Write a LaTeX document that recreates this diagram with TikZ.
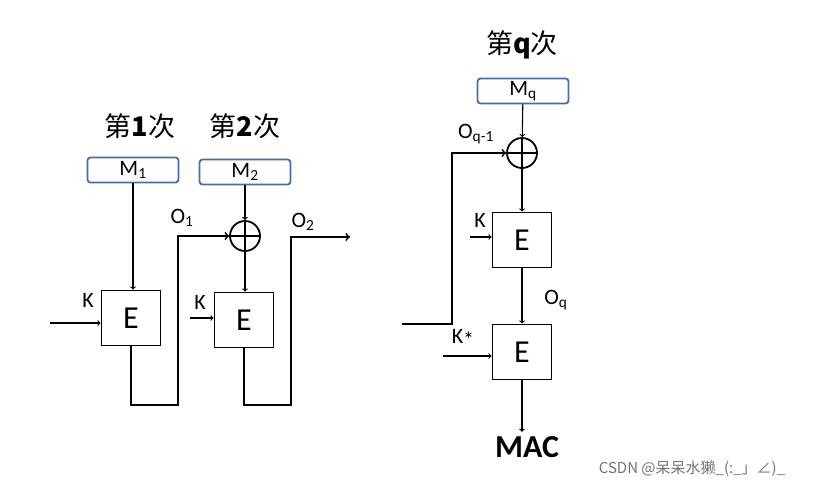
\documentclass[tikz,border=0pt]{standalone}
\usepackage{fontspec}
\setmainfont{Carlito}
\newfontfamily\cjk{Noto Sans CJK SC}
\usetikzlibrary{positioning}
\usetikzlibrary{calc}

\definecolor{msgblue}{RGB}{70,110,165}
\tikzset{
  enc/.style={draw, line width=1.8pt, minimum width=59pt, minimum height=55pt, inner sep=0pt, font=\fontsize{32}{32}\selectfont},
  msg/.style={draw=msgblue, line width=1.8pt, rounded corners=3pt, minimum width=91pt, minimum height=25pt, inner sep=0pt, font=\fontsize{22}{22}\selectfont},
  xorc/.style={draw, line width=1.8pt, circle, minimum size=30pt, inner sep=0pt, path picture={
      \draw[line width=1.8pt] (path picture bounding box.north) -- (path picture bounding box.south)
                   (path picture bounding box.west) -- (path picture bounding box.east);}},
  lbl/.style={font=\fontsize{22}{22}\selectfont, inner sep=0pt},
  ttl/.style={font=\cjk\fontsize{27}{27}\selectfont, inner sep=0pt},
  wire/.style={line width=1.8pt},
}

\begin{document}
\begin{tikzpicture}[x=1pt, y=-1pt, >=to, line width=1.1pt]
  \useasboundingbox (0,0) rectangle (830,493);

  % 第1次
  \node[ttl] (t1) at (140,126) {第\textbf{1}次};
  \node[msg] (m1) at (133,170) {M\textsubscript{1}};
  \node[enc] (e1) at (131,318) {E};
  \coordinate (in1) at (50,323);
  \node[lbl] (k1) at (88,300) {K};
  \draw[->] (m1) -- (m1 |- e1.north);
  \draw[->] (in1) -- (e1.west |- in1);

  % 第2次
  \node[ttl] (t2) at (245,126) {第\textbf{2}次};
  \node[msg] (m2) at (245,172) {M\textsubscript{2}};
  \node[xorc] (x2) at (245,236) {};
  \node[enc] (e2) at (244,320) {E};
  \coordinate (kin2) at (190,318);
  \node[lbl] (k2) at (200,302) {K};
  \node[lbl] (o1) at (182,218) {O\textsubscript{1}};
  \draw[->] (m2) -- (x2);
  \draw[->] (x2) -- (x2 |- e2.north);
  \draw[->] (kin2) -- (e2.west |- kin2);
  \draw[wire,->] (e1.south) |- (178,405) -- (178,236) -- (x2.west);
  \coordinate (out2) at (350,237);
  \node[lbl] (o2) at (303,222) {O\textsubscript{2}};
  \draw[wire,->] (e2.south) |- (291,405) -- (291,237) -- (out2);

  % 第q次
  \node[ttl] (tq) at (522,45) {第\textbf{q}次};
  \node[msg] (mq) at (523,91) {M\textsubscript{q}};
  \node[xorc] (xq) at (522,153) {};
  \node[enc] (eq) at (522,240) {E};
  \node[enc] (ek) at (522,352) {E};
  \node[lbl] (oq1) at (476,134) {O\textsubscript{q-1}};
  \coordinate (inq) at (402,324);
  \draw[wire,->] (inq) -- (452,324) -- (452,153) -- (xq.west);
  \draw[->] (mq) -- (xq);
  \draw[->] (xq) -- (eq);
  \coordinate (kinq) at (470,237);
  \node[lbl] (kq) at (480,220) {K};
  \draw[->] (kinq) -- (eq.west |- kinq);
  \node[lbl] (oq) at (556,300) {O\textsubscript{q}};
  \draw[->] (eq) -- (ek);
  \coordinate (kins) at (443,356);
  \node[lbl] (ks) at (463,338) {K\raisebox{-4pt}{*}};
  \draw[->] (kins) -- (ek.west |- kins);
  \node[font=\fontsize{32}{32}\selectfont\bfseries, inner sep=0pt] (mac) at (527,447) {MAC};
  \draw[->] (ek) -- ([yshift=4pt]ek |- mac.north);

  \node[font=\cjk\fontsize{15}{15}\selectfont, text=black!55, inner sep=0pt] (wm) at (692,469) {CSDN @呆呆水獭\_(:\_」∠)\_};
\end{tikzpicture}
\end{document}
